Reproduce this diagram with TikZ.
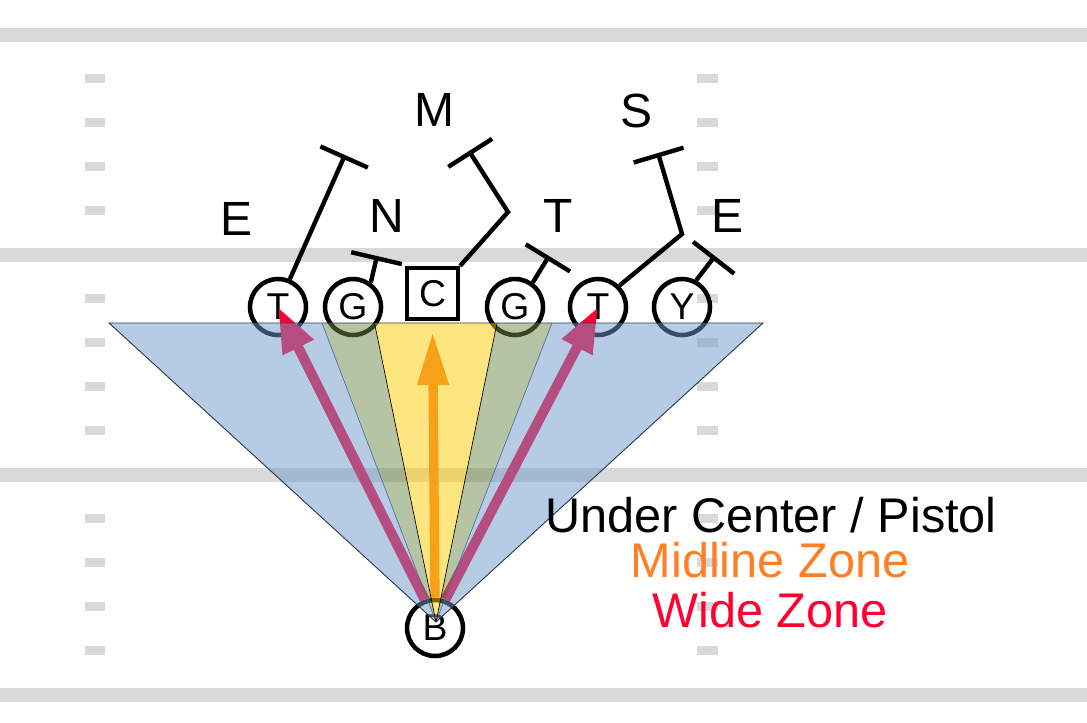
\documentclass[tikz,border=0pt]{standalone}
\usepackage{fontspec}
\setmainfont{Liberation Sans}
\usepackage{tikz}
\usetikzlibrary{arrows.meta, backgrounds}
\definecolor{fieldgray}{HTML}{D9D9D9}
\definecolor{fanblue}{HTML}{6F9BCD}
\definecolor{fangreen}{HTML}{718B4B}
\definecolor{fanyellow}{HTML}{FFCC00}
\definecolor{edgeblue}{HTML}{4A6FA5}
\definecolor{edgedark}{HTML}{2E3B4E}
\definecolor{midorange}{HTML}{EF7634}
\definecolor{midtext}{HTML}{FF7F27}
\definecolor{widered}{HTML}{FF0033}
\tikzset{
  player/.style={circle, draw=black, line width=3.4pt, minimum size=42pt, inner sep=0pt,
    font=\fontsize{28}{32}\selectfont},
  player/ctr/.style={rectangle, draw=black, line width=3.4pt, minimum size=38pt, inner sep=0pt,
    font=\fontsize{28}{32}\selectfont},
  dlbl/.style={font=\fontsize{36}{40}\selectfont, inner sep=0pt},
  blk/.style={draw=black, line width=3.3pt, -{Bar[width=39pt]}},
  ar/wide/.style={draw=widered, line width=7.5pt, -{Triangle[length=34pt, width=24pt]}},
  ar/mid/.style={draw=midorange, line width=7pt, -{Triangle[length=40pt, width=22pt]}, shorten >=8pt},
  fan/.style={fill opacity=0.5},
  note/.style={font=\fontsize{36.5}{40}\selectfont, inner sep=0pt, anchor=base},
}

\begin{document}
\begin{tikzpicture}[x=0.75pt, y=-0.75pt]
\useasboundingbox (0,0) rectangle (1087,722);

%% ===== FIELD =====
\begin{scope}[on background layer]
  \fill[white] (0,0) rectangle (1087,722);
  \foreach \yl in {34.5,254.5,474.5,694.5}
    \fill[fieldgray] (0,\yl-7) rectangle (1087,\yl+7);
  \foreach \yl in {34.5,254.5,474.5}
    \foreach \k in {1,...,4} {
      \fill[fieldgray] (85,\yl+44*\k-4.5) rectangle (105,\yl+44*\k+4.5);
      \fill[fieldgray] (697,\yl+44*\k-4.5) rectangle (718,\yl+44*\k+4.5);
    }
\end{scope}

%% ===== NODES =====
% -- offense line --
\node[player]     (T1) at (278,307) {T};
\node[player]     (G1) at (353,307) {G};
\node[player/ctr] (C)  at (432.5,293.5) {C};
\node[player]     (G2) at (515,307) {G};
\node[player]     (T2) at (598,307) {T};
\node[player]     (Y)  at (682,307) {Y};
\node[player]     (B)  at (435,628) {B};

% -- block points --
\coordinate (lt-end)  at (345,155);
\coordinate (lg-end)  at (377,256);
\coordinate (c-bend)  at (508,212);
\coordinate (c-end)   at (469,151);
\coordinate (rg-end)  at (549,256);
\coordinate (rt-bend) at (682,234);
\coordinate (rt-end)  at (658,153);
\coordinate (y-end)   at (715,256);

%% ===== BLOCKS =====
\draw[blk] (T1.67) -- (lt-end);
\draw[blk] (G1.54) -- (lg-end);
\draw[blk] (C.north east) -- (c-bend) -- (c-end);
\draw[blk] (G2.54) -- (rg-end);
\draw[blk] (T2.45) -- (rt-bend) -- (rt-end);
\draw[blk] (Y.62) -- (y-end);

%% ===== PATHS =====
\draw[ar/wide] (B.110) -- (T1.center);
\draw[ar/wide] (B.70) -- (T2.center);
\draw[ar/mid]  (B.north) -- (C.south);

%% ===== FAN =====
\coordinate (apex) at (436,622);
\coordinate (tl) at (109,323);
\coordinate (gl) at (322,323);
\coordinate (yl) at (374.5,323);
\coordinate (yr) at (497,323);
\coordinate (gr) at (552,323);
\coordinate (tr) at (763,323);
\fill[fan, fanblue]   (apex) -- (tl) -- (gl) -- cycle;
\fill[fan, fangreen]  (apex) -- (gl) -- (yl) -- cycle;
\fill[fan, fanyellow] (apex) -- (yl) -- (yr) -- cycle;
\fill[fan, fangreen]  (apex) -- (yr) -- (gr) -- cycle;
\fill[fan, fanblue]   (apex) -- (gr) -- (tr) -- cycle;
\draw[edgeblue, line width=0.5pt] (apex) -- (gl) (apex) -- (gr);
\draw[black, line width=0.5pt] (apex) -- (yl) (apex) -- (yr);
\draw[edgedark, line width=0.7pt] (apex) -- (tl) -- (tr) -- cycle;

%% ===== LABELS =====
\node[dlbl] (dE1) at (237,219) {E};
\node[dlbl] (dN)  at (387,216) {N};
\node[dlbl] (dM)  at (434,110) {M};
\node[dlbl] (dT)  at (558,216) {T};
\node[dlbl] (dS)  at (636,111) {S};
\node[dlbl] (dE2) at (727,216) {E};

\node[note]                (uc)  at (771,532) {Under Center / Pistol};
\node[note, text=midtext]  (mlz) at (770,577) {Midline Zone};
\node[note, text=widered]  (wz)  at (770,627) {Wide Zone};
\end{tikzpicture}
\end{document}
